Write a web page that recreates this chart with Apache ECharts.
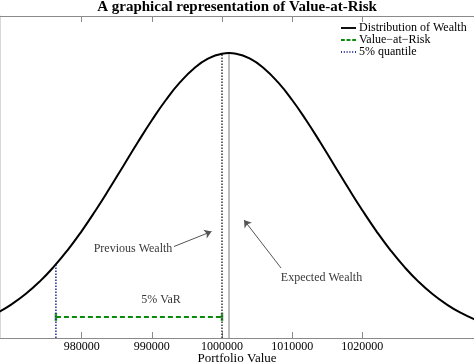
<!DOCTYPE html>
<html><head><meta charset="utf-8">
<script src="https://cdn.jsdelivr.net/npm/echarts@6/dist/echarts.min.js"></script>
<style>html,body{margin:0;padding:0;background:#fff}#c{width:474px;height:362px}</style>
</head><body><div id="c"></div>
<script>
// Portfolio values (x) and relative density (y)
const wealthX = [968000,970000,972000,974000,976000,978000,980000,982000,984000,986000,988000,990000,992000,994000,996000,998000,1000000,1001000,1002000,1004000,1006000,1008000,1010000,1012000,1014000,1016000,1018000,1020000,1022000,1024000,1026000,1028000,1030000,1032000,1034000,1036000,1038000];
const density = [0.0889,0.1182,0.1543,0.1979,0.2494,0.3086,0.3753,0.4484,0.5261,0.6065,0.6869,0.7642,0.8353,0.8968,0.9460,0.9802,0.9978,1.0,0.9978,0.9802,0.9460,0.8968,0.8353,0.7642,0.6869,0.6065,0.5261,0.4484,0.3753,0.3086,0.2494,0.1979,0.1543,0.1182,0.0889,0.0657,0.0477];
const tickValues = [980000,990000,1000000,1010000,1020000];
const previousWealth = 1000000;
const expectedWealth = 1001000;
const quantile5 = 976325;
const quantileDensity = 0.2585;
const varLevel = 0.0737;
const prevTop = 0.9978;
const expTop = 1.0;
// annotations [x, y]
const prevText = [987314, 0.3123];
const prevArrow = [[993158, 0.3211],[998504, 0.3737]];
const expText = [1014184, 0.2106];
const expArrow = [[1008411, 0.2457],[1003137, 0.4141]];
const varText = [991305, 0.1334];
const xAxisTitle = 'Portfolio Value';

const serif = 'Liberation Serif';
const chart = echarts.init(document.getElementById('c'));
const axisGrey = '#8a8a8a';
const curve = wealthX.map((x,i)=>[x,density[i]]);
const textSeries = (name, pos, txt) => ({
  type:'scatter', name, data:[pos], symbolSize:0, silent:true,
  label:{show:true, position:'inside', formatter:txt, color:'#000', textBorderWidth:0,
    fontFamily:serif, fontSize:12}
});
const iconSolid = 'path://M0,0h16v2h-16z';
const iconDash = 'path://M0,0h4v2h-4zM6,0h4v2h-4zM12,0h4v2h-4z';
const iconDot = 'path://M0,0h1v2h-1zM3,0h1v2h-1zM6,0h1v2h-1zM9,0h1v2h-1zM12,0h1v2h-1zM15,0h1v2h-1z';
chart.setOption({
  animation:false,
  title:{text:'A graphical representation of Value-at-Risk', left:'center', top:-5,
    textStyle:{fontFamily:serif, fontSize:15, fontWeight:'bold', color:'#000'}},
  graphic:[{type:'text', left:'center', top:352, silent:true,
    style:{text:xAxisTitle, fill:'#000', font:'13px "Liberation Serif"'}}],
  legend:{orient:'vertical', left:341, top:22, padding:0, itemWidth:15, itemHeight:2.2, itemGap:0,
    data:[{name:'Distribution of Wealth', icon:iconSolid},{name:'Value\u2212at\u2212Risk', icon:iconDash},{name:'5% quantile', icon:iconDot}],
    textStyle:{fontFamily:serif, fontSize:12, lineHeight:12, color:'#000', padding:[0,0,0,-2]}},
  grid:{left:0, right:0, top:16, bottom:24, containLabel:false, outerBoundsMode:'none'},
  xAxis:[{
    type:'value', min:968354, max:1035923, position:'bottom',
    axisLine:{show:true, lineStyle:{color:axisGrey}},
    axisTick:{show:true, inside:true, length:6, customValues:tickValues, lineStyle:{color:axisGrey}},
    axisLabel:{customValues:tickValues, formatter:v=>String(v), fontFamily:serif, fontSize:12, color:'#000', margin:3},
    splitLine:{show:false}
  },{
    type:'value', min:968354, max:1035923, position:'top',
    axisLine:{show:true, lineStyle:{color:axisGrey}},
    axisTick:{show:true, inside:true, length:6, customValues:tickValues, lineStyle:{color:axisGrey}},
    axisLabel:{show:false}, splitLine:{show:false}
  }],
  yAxis:{type:'value', min:0, max:1.13, axisLine:{show:true, lineStyle:{color:'#d8d8d8'}},
    axisTick:{show:false}, axisLabel:{show:false}, splitLine:{show:false}},
  series:[
    {type:'line', name:'Expected', data:[[expectedWealth,0],[expectedWealth,expTop]], symbol:'none',
      lineStyle:{color:'#a8a8a8', width:1.5}},
    {type:'line', name:'Previous', data:[[previousWealth,0],[previousWealth,prevTop]], symbol:'none',
      lineStyle:{color:'#333', width:1.5, type:[1.5,1.5]}},
    {type:'line', name:'5% quantile', data:[[quantile5,0],[quantile5,quantileDensity]], symbol:'none',
      lineStyle:{color:'#1e2a8c', width:1.5, type:[1.5,1.5]}, itemStyle:{color:'#1e2a8c'}},
    {type:'line', name:'Distribution of Wealth', data:curve, smooth:true, symbol:'none',
      lineStyle:{color:'#000', width:2}, itemStyle:{color:'#000'}},
    {type:'line', name:'Value\u2212at\u2212Risk', data:[[quantile5,varLevel],[previousWealth,varLevel]], symbol:'none',
      lineStyle:{color:'#0a8a0a', width:2.2, type:[5,3]}, itemStyle:{color:'#0a8a0a'}},
    {type:'scatter', name:'caps', data:[[quantile5,varLevel],[previousWealth,varLevel]], symbol:'rect',
      symbolSize:[2.5,8], itemStyle:{color:'#0a8a0a'}, silent:true},
    {type:'lines', coordinateSystem:'cartesian2d', name:'arrows', silent:true,
      symbol:['none','arrow'], symbolSize:7,
      lineStyle:{color:'#555', width:1, curveness:0, opacity:1},
      data:[{coords:prevArrow},{coords:expArrow}]},
    textSeries('t1', prevText, 'Previous Wealth'),
    textSeries('t2', expText, 'Expected Wealth'),
    textSeries('t3', varText, '5% VaR')
  ]
});
</script></body></html>
